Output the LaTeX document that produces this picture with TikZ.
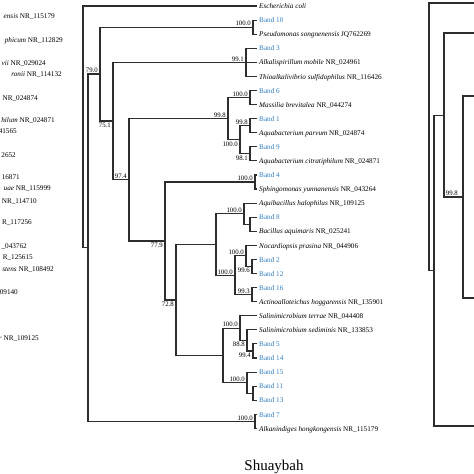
\documentclass[tikz,border=0pt]{standalone}
\usepackage{fontspec}
\setmainfont{Liberation Serif}
\definecolor{bandblue}{RGB}{46,125,190}
\definecolor{linec}{RGB}{45,45,45}
\begin{document}
\begin{tikzpicture}[x=1pt,y=-1pt,
  br/.style={line width=1.05pt, draw=linec},
  leaf/.style={anchor=base west, inner sep=0pt, font=\fontsize{7.2}{8}\selectfont},
  band/.style={leaf, text=bandblue},
  lft/.style={anchor=base east, inner sep=0pt, font=\fontsize{7.2}{8}\selectfont},
  bs/.style={inner sep=0pt, font=\fontsize{6.8}{7}\selectfont},
  bsa/.style={bs, anchor=south east},
  bsb/.style={bs, anchor=north east}]
\useasboundingbox (0,0) rectangle (474,474);

% ---------- left partial tree labels ----------
\node[lft] (l1) at (55,18.5) {\textit{ensis} NR\_115179};
\node[lft] (l2) at (63,42.5) {\textit{phicum} NR\_112829};
\node[lft] (l3) at (46,65.5) {\textit{vii} NR\_029024};
\node[lft] (l4) at (62,76.5) {\textit{ronii} NR\_114132};
\node[lft] (l5) at (38,100.5) {NR\_024874};
\node[lft] (l6) at (55,122.5) {\textit{hilum} NR\_024871};
\node[lft] (l7) at (17,133.5) {41565};
\node[lft] (l8) at (16,157.5) {2652};
\node[lft] (l9) at (20,179.5) {16871};
\node[lft] (l10) at (51,190.5) {\textit{uae} NR\_115999};
\node[lft] (l11) at (37,203.5) {NR\_114710};
\node[lft] (l12) at (32,224.5) {R\_117256};
\node[lft] (l13) at (27,248.5) {\_043762};
\node[lft] (l14) at (33,259.5) {R\_125615};
\node[lft] (l15) at (54,271.5) {\textit{stens} NR\_108492};
\node[lft] (l16) at (18,294.5) {09140};
\node[lft] (l17) at (39,340.5) {\textit{r} NR\_109125};

% ---------- main tree: tips ----------
\foreach \i/\y in {1/6,2/20.1,3/34.2,4/48.2,5/62.3,6/76.4,7/90.5,8/104.6,9/118.6,10/132.7,
  11/146.8,12/160.9,13/175,14/189,15/203.1,16/217.2,17/231.3,18/245.4,19/259.4,20/273.5,
  21/287.6,22/301.7,23/315.8,24/329.9,25/343.9,26/358,27/372.1,28/386.2,29/400.3,30/414.4,31/428.4}
  {\coordinate (t\i) at (257,\y);}

\node[leaf] (n1) at (259,8.6) {\textit{Escherichia coli}};
\node[band] (n2) at (259,22.7) {Band 10};
\node[leaf] (n3) at (259,36.8) {\textit{Pseudomonas songnenensis} JQ762269};
\node[band] (n4) at (259,50.8) {Band 3};
\node[leaf] (n5) at (259,64.9) {\textit{Alkalispirillum mobile} NR\_024961};
\node[leaf] (n6) at (259,79) {\textit{Thioalkalivibrio sulfidophilus} NR\_116426};
\node[band] (n7) at (259,93.1) {Band 6};
\node[leaf] (n8) at (259,107.2) {\textit{Massilia brevitalea} NR\_044274};
\node[band] (n9) at (259,121.2) {Band 1};
\node[leaf] (n10) at (259,135.3) {\textit{Aquabacterium parvum} NR\_024874};
\node[band] (n11) at (259,149.4) {Band 9};
\node[leaf] (n12) at (259,163.5) {\textit{Aquabacterium citratiphilum} NR\_024871};
\node[band] (n13) at (259,177.6) {Band 4};
\node[leaf] (n14) at (259,191.6) {\textit{Sphingomonas yunnanensis} NR\_043264};
\node[leaf] (n15) at (259,205.7) {\textit{Aquibacillus halophilus} NR\_109125};
\node[band] (n16) at (259,219.8) {Band 8};
\node[leaf] (n17) at (259,233.9) {\textit{Bacillus aquimaris} NR\_025241};
\node[leaf] (n18) at (259,248) {\textit{Nocardiopsis prasina} NR\_044906};
\node[band] (n19) at (259,262) {Band 2};
\node[band] (n20) at (259,276.1) {Band 12};
\node[band] (n21) at (259,290.2) {Band 16};
\node[leaf] (n22) at (259,304.3) {\textit{Actinoalloteichus hoggarensis} NR\_135901};
\node[leaf] (n23) at (259,318.4) {\textit{Salinimicrobium terrae} NR\_044408};
\node[leaf] (n24) at (259,332.5) {\textit{Salinimicrobium sediminis} NR\_133853};
\node[band] (n25) at (259,346.5) {Band 5};
\node[band] (n26) at (259,360.6) {Band 14};
\node[band] (n27) at (259,374.7) {Band 15};
\node[band] (n28) at (259,388.8) {Band 11};
\node[band] (n29) at (259,402.9) {Band 13};
\node[band] (n30) at (259,417) {Band 7};
\node[leaf] (n31) at (259,431) {\textit{Alkanindiges hongkongensis} NR\_115179};

% ---------- main tree: internal nodes ----------
\coordinate (root) at (83,126.9);
\coordinate (N88) at (88,247.7);
\coordinate (N79) at (100,74);
\coordinate (A) at (253,27.1);
\coordinate (N75) at (113,121);
\coordinate (B) at (246,62.3);
\coordinate (N97) at (129,179.8);
\coordinate (G) at (228,118.6);
\coordinate (C) at (250,97.5);
\coordinate (F) at (240,139.8);
\coordinate (D) at (250,125.7);
\coordinate (E) at (250,153.8);
\coordinate (N779) at (165,241);
\coordinate (H) at (255,182);
\coordinate (N728) at (176,300);
\coordinate (FA) at (216,244.5);
\coordinate (I) at (244,213.7);
\coordinate (J) at (250,224.2);
\coordinate (K) at (235,275.3);
\coordinate (L) at (246,255.9);
\coordinate (N) at (252,266.5);
\coordinate (M) at (252,294.6);
\coordinate (U) at (223,355.4);
\coordinate (P) at (240,328.1);
\coordinate (Q) at (247,340.4);
\coordinate (R) at (253,351);
\coordinate (S) at (247,382.7);
\coordinate (T) at (253,393.2);
\coordinate (V) at (255,421.4);

\foreach \p/\c in {root/t1,root/N88,N88/N79,N88/V,N79/A,N79/N75,A/t2,A/t3,
  N75/B,N75/N97,B/t4,B/t5,B/t6,N97/G,N97/N779,G/C,G/F,C/t7,C/t8,F/D,F/E,
  D/t9,D/t10,E/t11,E/t12,N779/H,N779/N728,H/t13,H/t14,N728/FA,N728/U,
  FA/I,FA/K,I/t15,I/J,J/t16,J/t17,K/L,K/M,L/t18,L/N,N/t19,N/t20,M/t21,M/t22,
  U/P,U/S,P/t23,P/Q,Q/t24,Q/R,R/t25,R/t26,S/t27,S/T,T/t28,T/t29,V/t30,V/t31}
  {\draw[br] (\p) |- (\c);}

% ---------- bootstrap values ----------
\node[bsa] (b79) at ([xshift=-2pt,yshift=1pt]N79) {79.0};
\node[bsb] (b75) at ([xshift=-2pt,yshift=-1.5pt]N75) {75.1};
\node[bsa] (b97) at ([xshift=-2pt,yshift=1pt]N97) {97.4};
\node[bsb] (b779) at ([xshift=-2pt,yshift=-1.5pt]N779) {77.9};
\node[bsb] (b728) at ([xshift=-2pt,yshift=-1.5pt]N728) {72.8};
\node[bsa] (bA) at ([xshift=-2pt,yshift=1pt]A) {100.0};
\node[bsa] (bB) at ([xshift=-2pt,yshift=1pt]B) {99.1};
\node[bsa] (bG) at ([xshift=-2pt,yshift=1pt]G) {99.8};
\node[bsa] (bC) at ([xshift=-2pt,yshift=1pt]C) {100.0};
\node[bsb] (bF) at ([xshift=-2pt,yshift=-1.5pt]F) {100.0};
\node[bsa] (bD) at ([xshift=-2pt,yshift=1pt]D) {99.8};
\node[bsb] (bE) at ([xshift=-2pt,yshift=-1.5pt]E) {98.1};
\node[bsa] (bH) at ([xshift=-2pt,yshift=1pt]H) {100.0};
\node[bsa] (bI) at ([xshift=-2pt,yshift=1pt]I) {100.0};
\node[bsa] (bK) at ([xshift=-2pt,yshift=1pt]K) {100.0};
\node[bsa] (bL) at ([xshift=-2pt,yshift=1pt]L) {100.0};
\node[bsb] (bN) at ([xshift=-2pt,yshift=-1.5pt]N) {99.6};
\node[bsa] (bM) at ([xshift=-2pt,yshift=1pt]M) {99.3};
\node[bsa] (bP) at ([xshift=-2pt,yshift=1pt]P) {100.0};
\node[bsb] (bQ) at ([xshift=-2pt,yshift=-1.5pt]Q) {88.8};
\node[bsb] (bR) at ([xshift=-2pt,yshift=-1.5pt]R) {99.4};
\node[bsa] (bS) at ([xshift=-2pt,yshift=1pt]S) {100.0};
\node[bsa] (bV) at ([xshift=-2pt,yshift=1pt]V) {100.0};

% ---------- right partial tree ----------
\coordinate (RRm) at (429,136.5);
\coordinate (R1) at (434,270.5);
\coordinate (R2) at (444,115.5);
\coordinate (R3) at (463,197);
\coordinate (e1) at (480,3);
\coordinate (e2) at (480,33);
\coordinate (e3) at (480,96);
\coordinate (e4) at (480,298);
\coordinate (e5) at (480,426);
\draw[br] (RRm) |- (e1);
\draw[br] (RRm) |- (R1);
\draw[br] (R1) |- (R2);
\draw[br] (R1) |- (e5);
\draw[br] (R2) |- (e2);
\draw[br] (R2) |- (R3);
\draw[br] (R3) |- (e3);
\draw[br] (R3) |- (e4);
\node[bsa] (bR3) at ([xshift=-5pt,yshift=1pt]R3) {99.8};

% ---------- title ----------
\node[anchor=base, inner sep=0pt, font=\fontsize{15}{17}\selectfont] (title) at (274,470) {Shuaybah};
\end{tikzpicture}
\end{document}
